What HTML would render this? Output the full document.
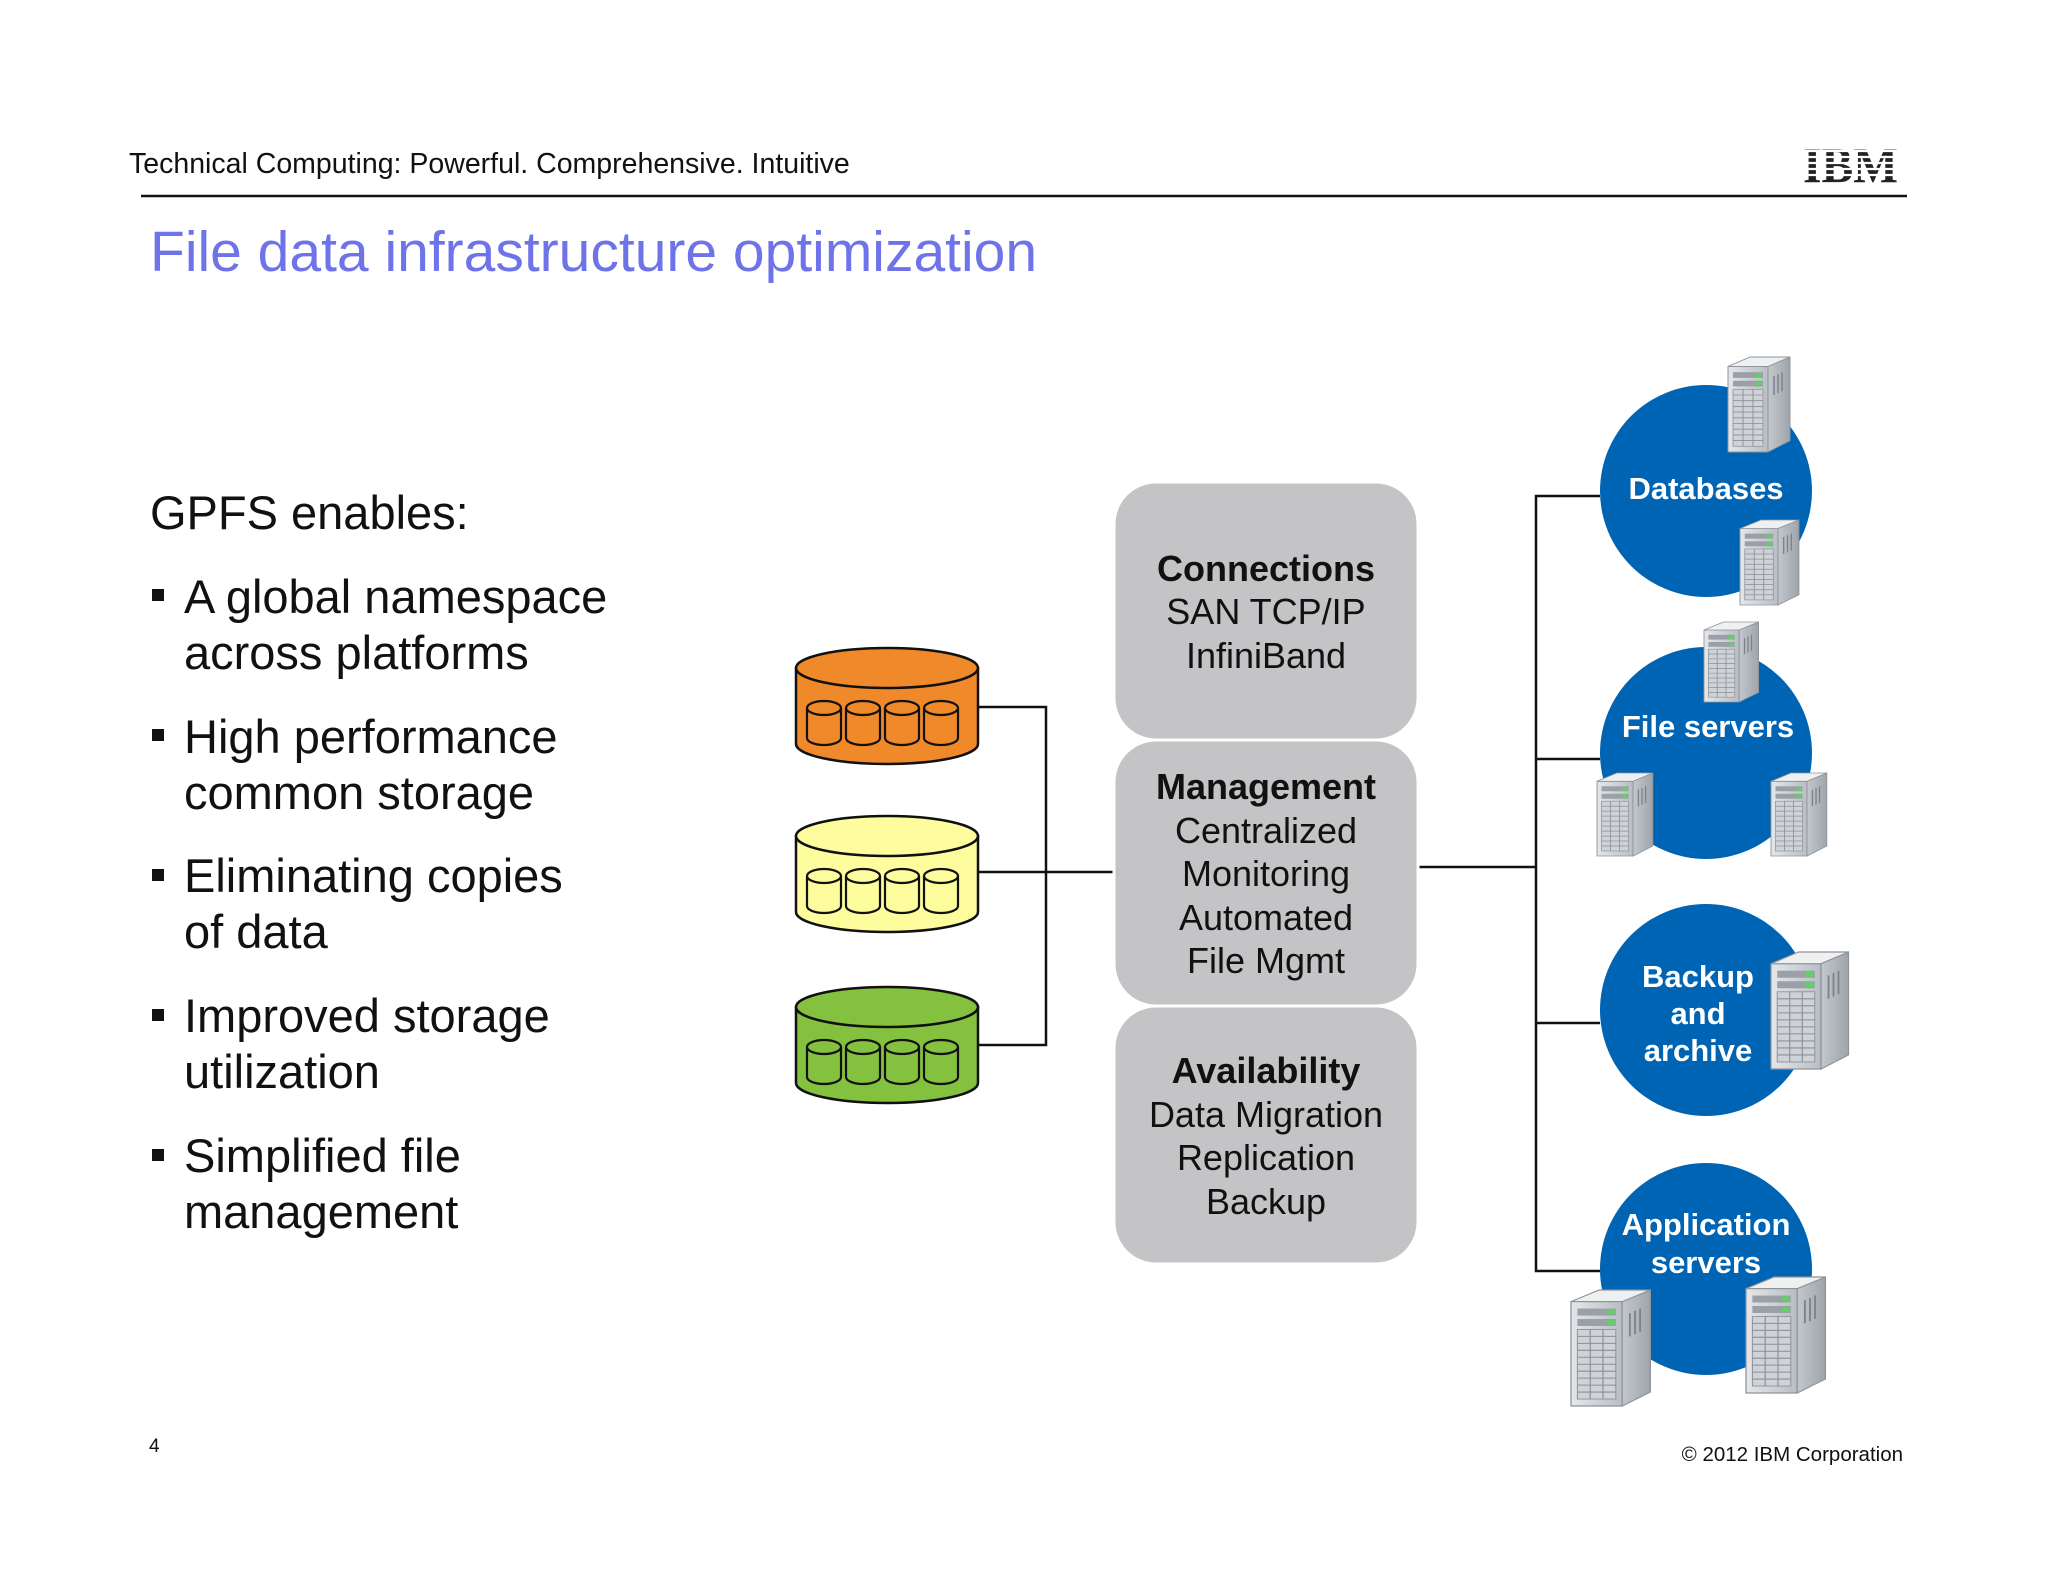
<!DOCTYPE html>
<html><head><meta charset="utf-8"><style>
html,body{margin:0;padding:0;background:#fff;}
svg{display:block}
</style></head><body>
<svg width="2048" height="1582" viewBox="0 0 2048 1582" xmlns="http://www.w3.org/2000/svg" font-family="'Liberation Sans', Arial, sans-serif">
<defs>
<linearGradient id="sv" x1="0" x2="1"><stop offset="0" stop-color="#e4e7ea"/><stop offset="1" stop-color="#b9bec4"/></linearGradient>
<linearGradient id="sd" x1="0" x2="1"><stop offset="0" stop-color="#c3c8cd"/><stop offset="1" stop-color="#9ea4aa"/></linearGradient>
<g id="srv">
 <polygon points="0,10 40,10 40,100 0,100" fill="url(#sv)" stroke="#8e949a" stroke-width="1"/>
 <polygon points="40,10 62,0 62,88 40,100" fill="url(#sd)" stroke="#8e949a" stroke-width="1"/>
 <polygon points="0,10 22,0 62,0 40,10" fill="#eef0f2" stroke="#8e949a" stroke-width="1"/>
 <rect x="5" y="16" width="30" height="6" fill="#9aa0a6"/>
 <rect x="5" y="25" width="30" height="6" fill="#9aa0a6"/>
 <rect x="28" y="17" width="6" height="4" fill="#5fd35f"/>
 <rect x="28" y="26" width="6" height="4" fill="#5fd35f"/>
 <rect x="5" y="34" width="30" height="60" fill="#cfd3d7" stroke="#8e949a" stroke-width="0.8"/>
 <path d="M15 34V94M25 34V94M5 40H35M5 46H35M5 52H35M5 58H35M5 64H35M5 70H35M5 76H35M5 82H35M5 88H35" stroke="#8a9096" stroke-width="0.9" fill="none"/>
 <path d="M46 20V40M50 18V38M54 16V36" stroke="#7b8187" stroke-width="1.4"/>
</g>
</defs>

<text x="129" y="173" font-size="28.5" fill="#111">Technical Computing: Powerful. Comprehensive. Intuitive</text>
<g fill="#222">
 <text x="1803" y="182" font-size="50" font-family="'Liberation Serif', serif" font-weight="bold" textLength="95" lengthAdjust="spacingAndGlyphs">IBM</text>
</g>
<g stroke="#fff" stroke-width="2.2">
 <line x1="1800" y1="151" x2="1900" y2="151"/><line x1="1800" y1="157" x2="1900" y2="157"/><line x1="1800" y1="163" x2="1900" y2="163"/><line x1="1800" y1="169" x2="1900" y2="169"/><line x1="1800" y1="175" x2="1900" y2="175"/>
</g>
<line x1="141" y1="196" x2="1907" y2="196" stroke="#111" stroke-width="2.5"/>
<text x="150" y="271" font-size="57" fill="#6f73ea">File data infrastructure optimization</text>

<g font-size="47" fill="#111">
 <text x="150" y="529">GPFS enables:</text>
 <g fill="#111">
  <rect x="152" y="589" width="12" height="12"/><rect x="152" y="729" width="12" height="12"/><rect x="152" y="869" width="12" height="12"/><rect x="152" y="1009" width="12" height="12"/><rect x="152" y="1149" width="12" height="12"/>
 </g>
 <text x="184" y="613">A global namespace</text>
 <text x="184" y="669">across platforms</text>
 <text x="184" y="753">High performance</text>
 <text x="184" y="809">common storage</text>
 <text x="184" y="892">Eliminating copies</text>
 <text x="184" y="948">of data</text>
 <text x="184" y="1032">Improved storage</text>
 <text x="184" y="1088">utilization</text>
 <text x="184" y="1172">Simplified file</text>
 <text x="184" y="1228">management</text>
</g>

<!-- cylinders -->
<g stroke="#111" stroke-width="2.5">
  <path d="M796 668 V744 A91 20 0 0 0 978 744 V668 Z" fill="#f0892a"/>
  <ellipse cx="887" cy="668" rx="91" ry="20" fill="#f0892a"/>
 <path d="M796 836 V912 A91 20 0 0 0 978 912 V836 Z" fill="#fdfd9e"/>
 <ellipse cx="887" cy="836" rx="91" ry="20" fill="#fdfd9e"/>
 <path d="M796 1007 V1083 A91 20 0 0 0 978 1083 V1007 Z" fill="#84c13e"/>
 <ellipse cx="887" cy="1007" rx="91" ry="20" fill="#84c13e"/>
</g>
<g stroke="#111" stroke-width="2.2" fill="none">
 <g id="m4">
  <path d="M807 708 V738 A17 7 0 0 0 841 738 V708"/><ellipse cx="824" cy="708" rx="17" ry="7"/>
  <path d="M846 708 V738 A17 7 0 0 0 880 738 V708"/><ellipse cx="863" cy="708" rx="17" ry="7"/>
  <path d="M885 708 V738 A17 7 0 0 0 919 738 V708"/><ellipse cx="902" cy="708" rx="17" ry="7"/>
  <path d="M924 708 V738 A17 7 0 0 0 958 738 V708"/><ellipse cx="941" cy="708" rx="17" ry="7"/>
 </g>
 <use href="#m4" y="168"/>
 <use href="#m4" y="339"/>
</g>

<!-- connectors -->
<g stroke="#111" stroke-width="2.5" fill="none">
 <path d="M978 707 H1046 V1045 H978"/>
 <path d="M978 872 H1114"/>
 <path d="M1418 867 H1536"/>
 <path d="M1600 496 H1536 V1271 H1600"/>
 <path d="M1536 759 H1600 M1536 1023 H1600"/>
</g>

<!-- gray boxes -->
<g fill="#c4c3c6" stroke="#fff" stroke-width="3">
 <rect x="1114" y="482" width="304" height="258" rx="42"/>
 <rect x="1114" y="1006" width="304" height="258" rx="42"/>
 <rect x="1114" y="740" width="304" height="266" rx="42"/>
</g>
<g font-size="36" fill="#111" text-anchor="middle">
 <text x="1266" y="581" font-weight="bold">Connections</text>
 <text x="1266" y="624">SAN TCP/IP</text>
 <text x="1266" y="668">InfiniBand</text>
 <text x="1266" y="799" font-weight="bold">Management</text>
 <text x="1266" y="843">Centralized</text>
 <text x="1266" y="886">Monitoring</text>
 <text x="1266" y="930">Automated</text>
 <text x="1266" y="973">File Mgmt</text>
 <text x="1266" y="1083" font-weight="bold">Availability</text>
 <text x="1266" y="1127">Data Migration</text>
 <text x="1266" y="1170">Replication</text>
 <text x="1266" y="1214">Backup</text>
</g>

<g fill="#0064b4">
 <circle cx="1706" cy="491" r="106"/>
 <circle cx="1706" cy="753" r="106"/>
 <circle cx="1706" cy="1010" r="106"/>
 <circle cx="1706" cy="1269" r="106"/>
</g>
<g font-size="31" font-weight="bold" fill="#fff" text-anchor="middle">
 <text x="1706" y="499">Databases</text>
 <text x="1708" y="737">File servers</text>
 <text x="1698" y="987">Backup</text>
 <text x="1698" y="1024">and</text>
 <text x="1698" y="1061">archive</text>
 <text x="1706" y="1235">Application</text>
 <text x="1706" y="1273">servers</text>
</g>

<use href="#srv" transform="translate(1728,357) scale(1.0,0.95)"/>
<use href="#srv" transform="translate(1740,520) scale(0.95,0.85)"/>
<use href="#srv" transform="translate(1704,622) scale(0.88,0.8)"/>
<use href="#srv" transform="translate(1597,773) scale(0.9,0.83)"/>
<use href="#srv" transform="translate(1771,773) scale(0.9,0.83)"/>
<use href="#srv" transform="translate(1771,952) scale(1.25,1.17)"/>
<use href="#srv" transform="translate(1571,1290) scale(1.28,1.16)"/>
<use href="#srv" transform="translate(1746,1277) scale(1.28,1.16)"/>

<text x="149" y="1452" font-size="19" fill="#111">4</text>
<text x="1903" y="1461" font-size="20.5" fill="#111" text-anchor="end">© 2012 IBM Corporation</text>
</svg>
</body></html>
